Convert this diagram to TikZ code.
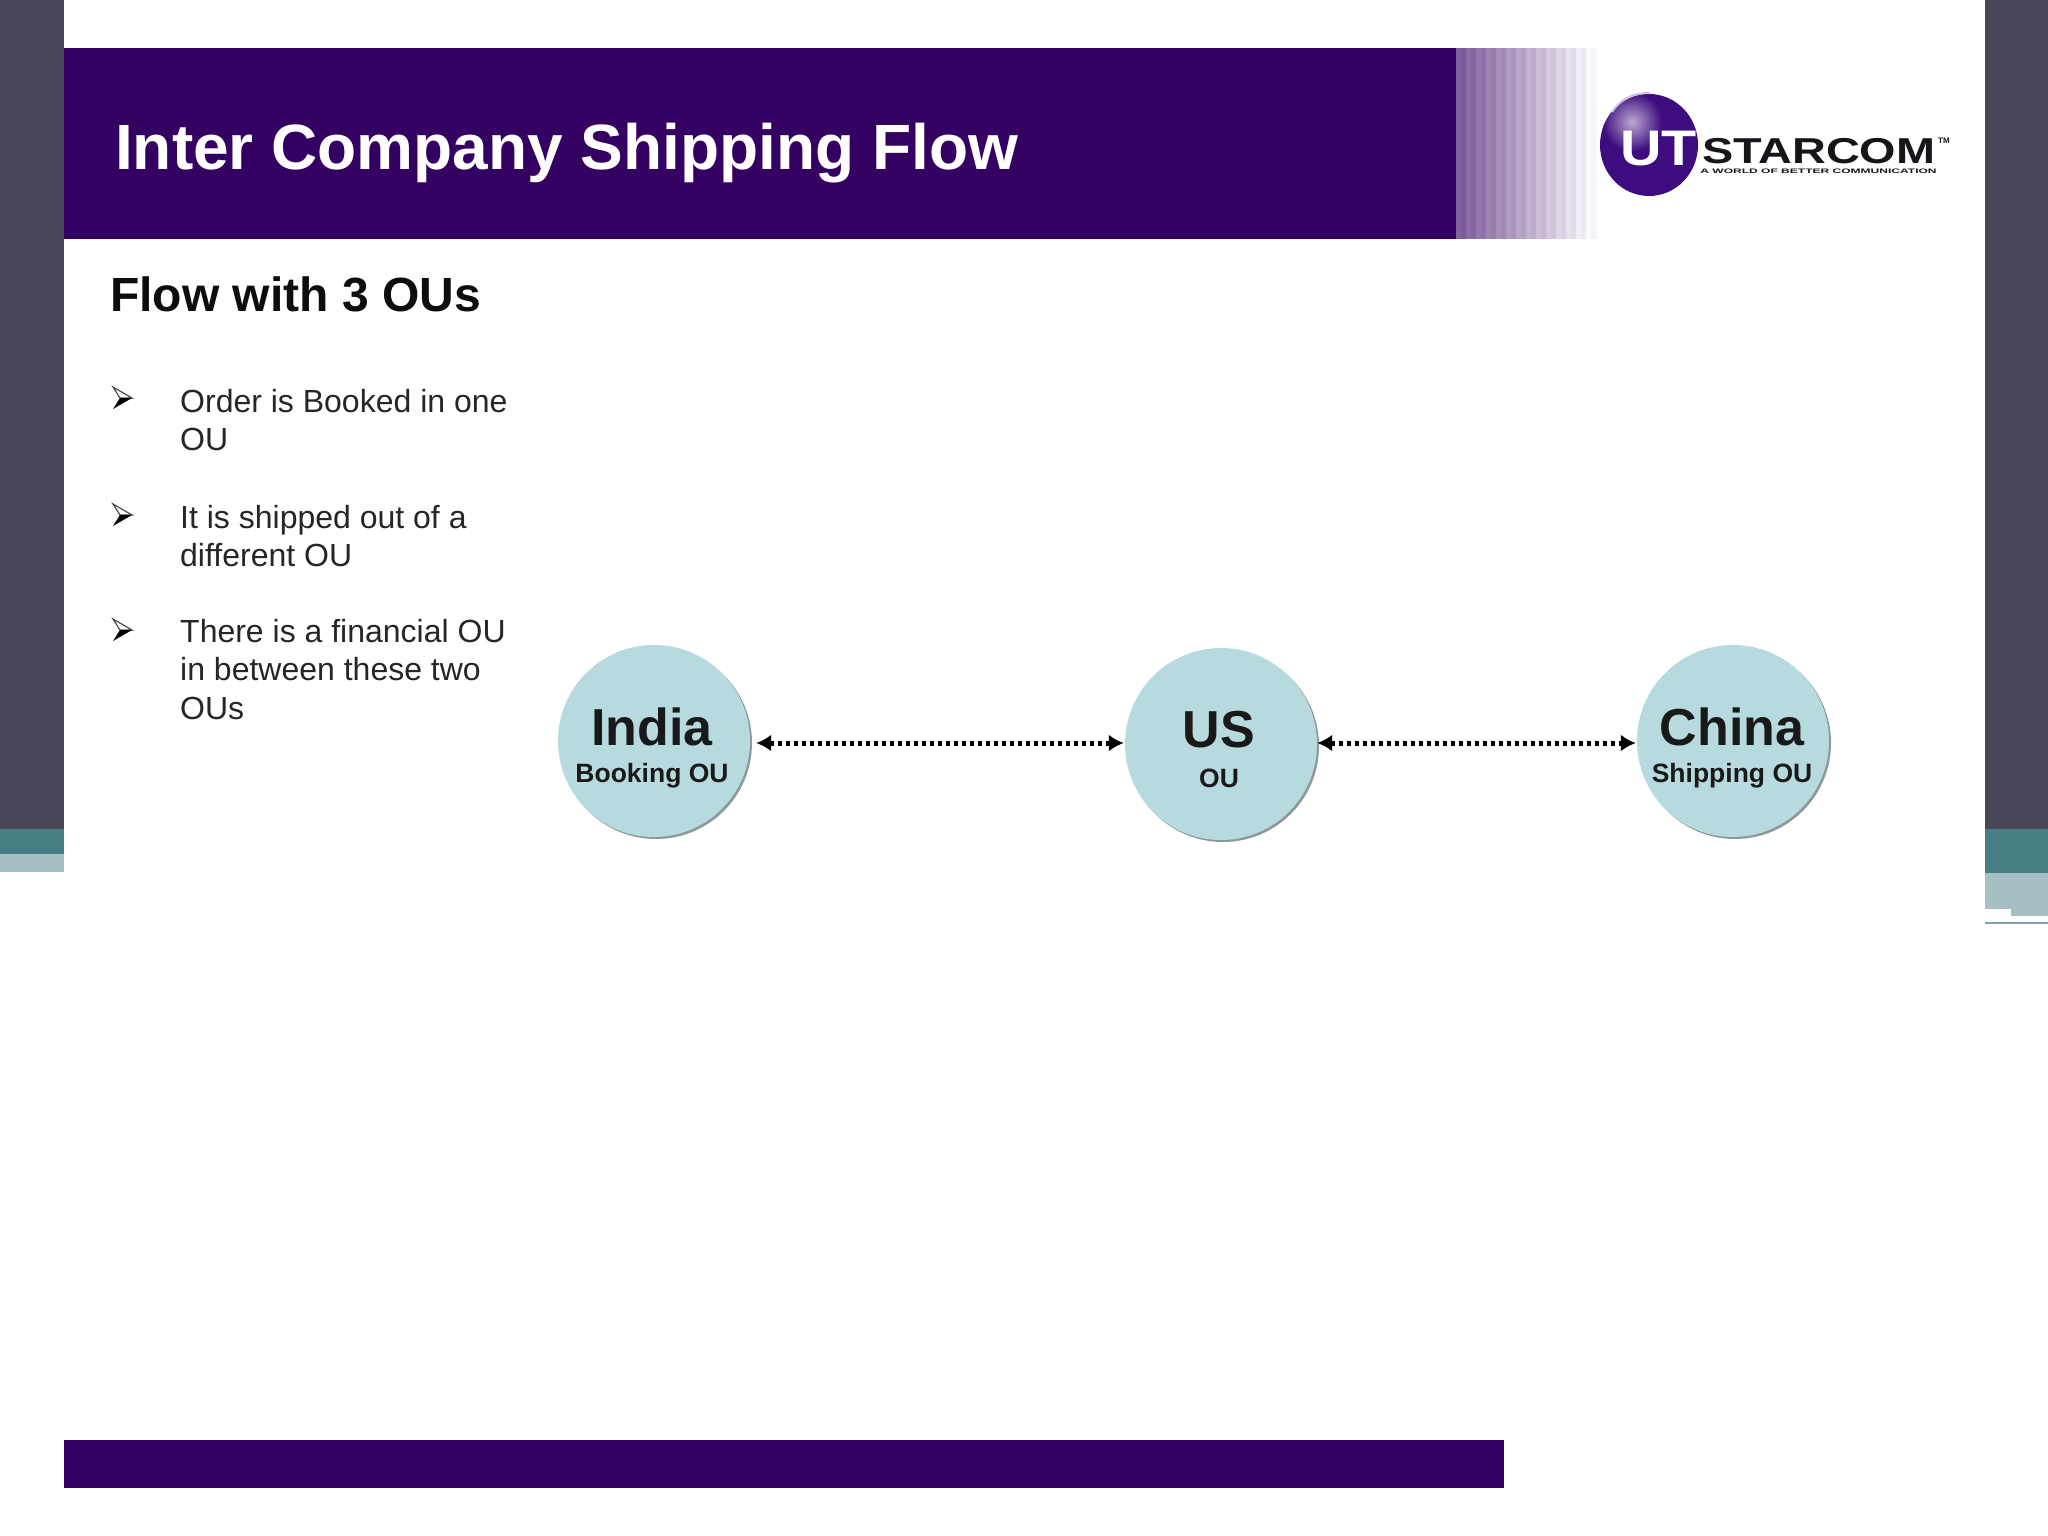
\documentclass[tikz,border=0pt]{standalone}
\usepackage{fontspec}
\setmainfont{Liberation Sans}
\usetikzlibrary{arrows.meta}
\definecolor{barpurple}{HTML}{340062}
\definecolor{logopurple}{HTML}{3D0C7E}
\definecolor{sideslate}{HTML}{474757}
\definecolor{sideteal}{HTML}{457F84}
\definecolor{sidelight}{HTML}{A6BFC3}
\definecolor{oufill}{HTML}{B7DADF}
\definecolor{oushadow}{HTML}{7F8F90}
\definecolor{logoink}{HTML}{15151A}
\newcommand{\fs}[1]{\fontsize{#1}{#1}\selectfont}
\tikzset{
  oucircle/.style={circle,fill=oufill,minimum size=192pt,inner sep=0pt},
  oushade/.style={circle,fill=oushadow,minimum size=192pt,inner sep=0pt,opacity=.9},
  bigname/.style={font=\fs{52}\bfseries,inner sep=0pt,text=black!90},
  subname/.style={font=\fs{26.5}\bfseries,inner sep=0pt,text=black!90},
  bullettext/.style={anchor=north west,align=left,inner sep=0pt,text=black!85,font=\fontsize{32}{38.6}\selectfont},
  link/.style={line width=5pt,dash pattern=on 4.5pt off 3.5pt,{Latex[length=15pt,width=17pt]}-{Latex[length=15pt,width=17pt]}},
  bulletarrow/.pic={
    \fill[white] (-9,-11) -- (10,0) -- (-2,0) -- cycle;
    \draw[black!70,line width=1.2pt,line join=miter] (-9,-11) -- (10,0) -- (-2,0) -- cycle;
    \fill[black] (-9,11) -- (10,0) -- (-2,0) -- cycle;
  },
}
\begin{document}
\begin{tikzpicture}[x=1pt,y=-1pt]
\useasboundingbox (0,0) rectangle (2048,1536);
\fill[white] (0,0) rectangle (2048,1536);
% side bands
\fill[sideslate] (0,0) rectangle (64,829);
\fill[sideteal] (0,829) rectangle (64,854);
\fill[sidelight] (0,854) rectangle (64,872);
\fill[sideslate] (1985,0) rectangle (2048,829);
\fill[sideteal] (1985,829) rectangle (2048,873);
\fill[sidelight] (1985,873) rectangle (2048,909);
\fill[sidelight] (2011,909) rectangle (2048,916);
\fill[sideteal!70] (1985,922) rectangle (2048,924);
% header bar
\fill[barpurple] (64,48) rectangle (1457,239);
\foreach \i in {0,...,27}{
  \pgfmathsetmacro{\mixv}{max(0,62-2.3*\i+5*mod(\i,2))}
  \pgfmathsetmacro{\xa}{1456+\i*5}
  \fill[barpurple!\mixv!white] (\xa,48) rectangle (\xa+5.5,239);
}
\node[anchor=base west,inner sep=0pt,text=white,font=\fs{64}\bfseries] (title) at (115,169) {Inter Company Shipping Flow};
% logo
\fill[logopurple] (1649,145) ellipse (49 and 51);
\begin{scope}
  \clip (1649,145) ellipse (49 and 51);
  \shade[inner color=logopurple!35!white,outer color=logopurple,shading=radial] (1632,122) circle (30);
\end{scope}
\draw[white!75!logopurple,line width=2pt] (1612,112) .. controls (1622,97) and (1635,93) .. (1650,93);
\node[anchor=base west,inner sep=0pt,text=white,font=\fs{50}\bfseries,xscale=1.15] (logout) at (1620,165) {UT};
\node[anchor=base west,inner sep=0pt,text=logoink,font=\fs{36}\bfseries,xscale=1.3] (logostar) at (1702,164) {STARCOM};
\node[anchor=base west,inner sep=0pt,text=logoink,font=\fs{6.5}\bfseries,xscale=1.85] (logotag) at (1700,174) {A WORLD OF BETTER COMMUNICATION};
\node[anchor=base west,inner sep=0pt,text=logoink,font=\fs{8}\bfseries] (logotm) at (1938,143) {TM};
% left text
\node[anchor=base west,inner sep=0pt,text=black!95,font=\fs{48}\bfseries] (heading) at (110,311) {Flow with 3 OUs};
\pic at (122,398) {bulletarrow};
\pic at (122,515) {bulletarrow};
\pic at (122,630) {bulletarrow};
\node[bullettext] (t1) at (180,389) {Order is Booked in one\\OU};
\node[bullettext] (t2) at (180,505) {It is shipped out of a\\different OU};
\node[bullettext] (t3) at (180,619) {There is a financial OU\\in between these two\\OUs};
% circles
\node[oushade] at (656,743) {};
\node[oushade] at (1223,746) {};
\node[oushade] at (1735,743) {};
\node[oucircle] (india) at (654,741) {};
\node[oucircle] (us) at (1221,744) {};
\node[oucircle] (china) at (1733,741) {};
\node[bigname] (indiat) at (652,727) {India};
\node[subname] (indias) at (652,776) {Booking OU};
\node[bigname] (ust) at (1219,730) {US};
\node[subname] (uss) at (1219,778) {OU};
\node[bigname] (chinat) at (1732,727) {China};
\node[subname] (chinas) at (1732,776) {Shipping OU};
% connectors
\draw[link] ([shift={(6,2)}]india.east) -- ([shift={(-1,-1)}]us.west);
\draw[link] ([shift={(0,-1)}]us.east) -- ([shift={(-1,2)}]china.west);
% footer
\fill[barpurple] (64,1440) rectangle (1504,1488);
\end{tikzpicture}
\end{document}
